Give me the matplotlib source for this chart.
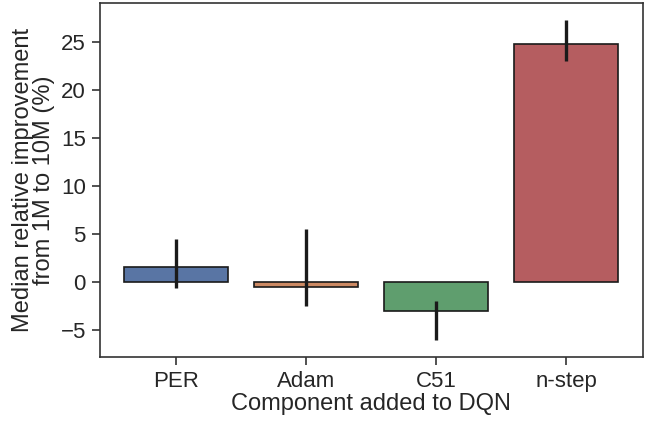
import matplotlib
matplotlib.use("Agg")
import matplotlib.pyplot as plt
import seaborn as sns
import numpy as np

categories = ["PER", "Adam", "C51", "n-step"]
values = [1.5, -0.6, -3.03, 24.8]
err_low = [-0.69, -2.54, -6.09, 23.04]
err_high = [4.49, 5.47, -2.01, 27.3]

sns.set_style("ticks")
plt.rcParams['font.family'] = ['Liberation Sans', 'DejaVu Sans']

deep = sns.color_palette("deep")
colors = [sns.desaturate(c, 0.75) for c in deep[:4]]

fig = plt.figure(figsize=(6.48, 4.26), dpi=100)
ax = fig.add_axes([0.154, 0.162, 0.838, 0.830])

x = np.arange(len(categories))
ax.bar(x, values, width=0.8, color=colors, edgecolor="#1a1a1a", linewidth=1.2)
for xi, lo, hi in zip(x, err_low, err_high):
    ax.plot([xi, xi], [lo, hi], color="#1a1a1a", linewidth=2.4, solid_capstyle="butt")

ax.set_xticks(x)
ax.set_xticklabels(categories)
ax.set_yticks([-5, 0, 5, 10, 15, 20, 25])
ax.set_ylim(-7.86, 29.04)
ax.set_xlim(-0.59, 3.59)
ax.tick_params(labelsize=16, length=6, width=1.2, colors="#333333", labelcolor="#262626", pad=4)
for s in ax.spines.values():
    s.set_linewidth(1.2)
    s.set_color("#333333")
ax.set_xlabel("Component added to DQN", fontsize=17, color="#262626", labelpad=1)
ax.set_ylabel("Median relative improvement\nfrom 1M to 10M (%)", fontsize=17, color="#262626",
              labelpad=4, linespacing=0.95)

fig.savefig("out.png", dpi=100)
